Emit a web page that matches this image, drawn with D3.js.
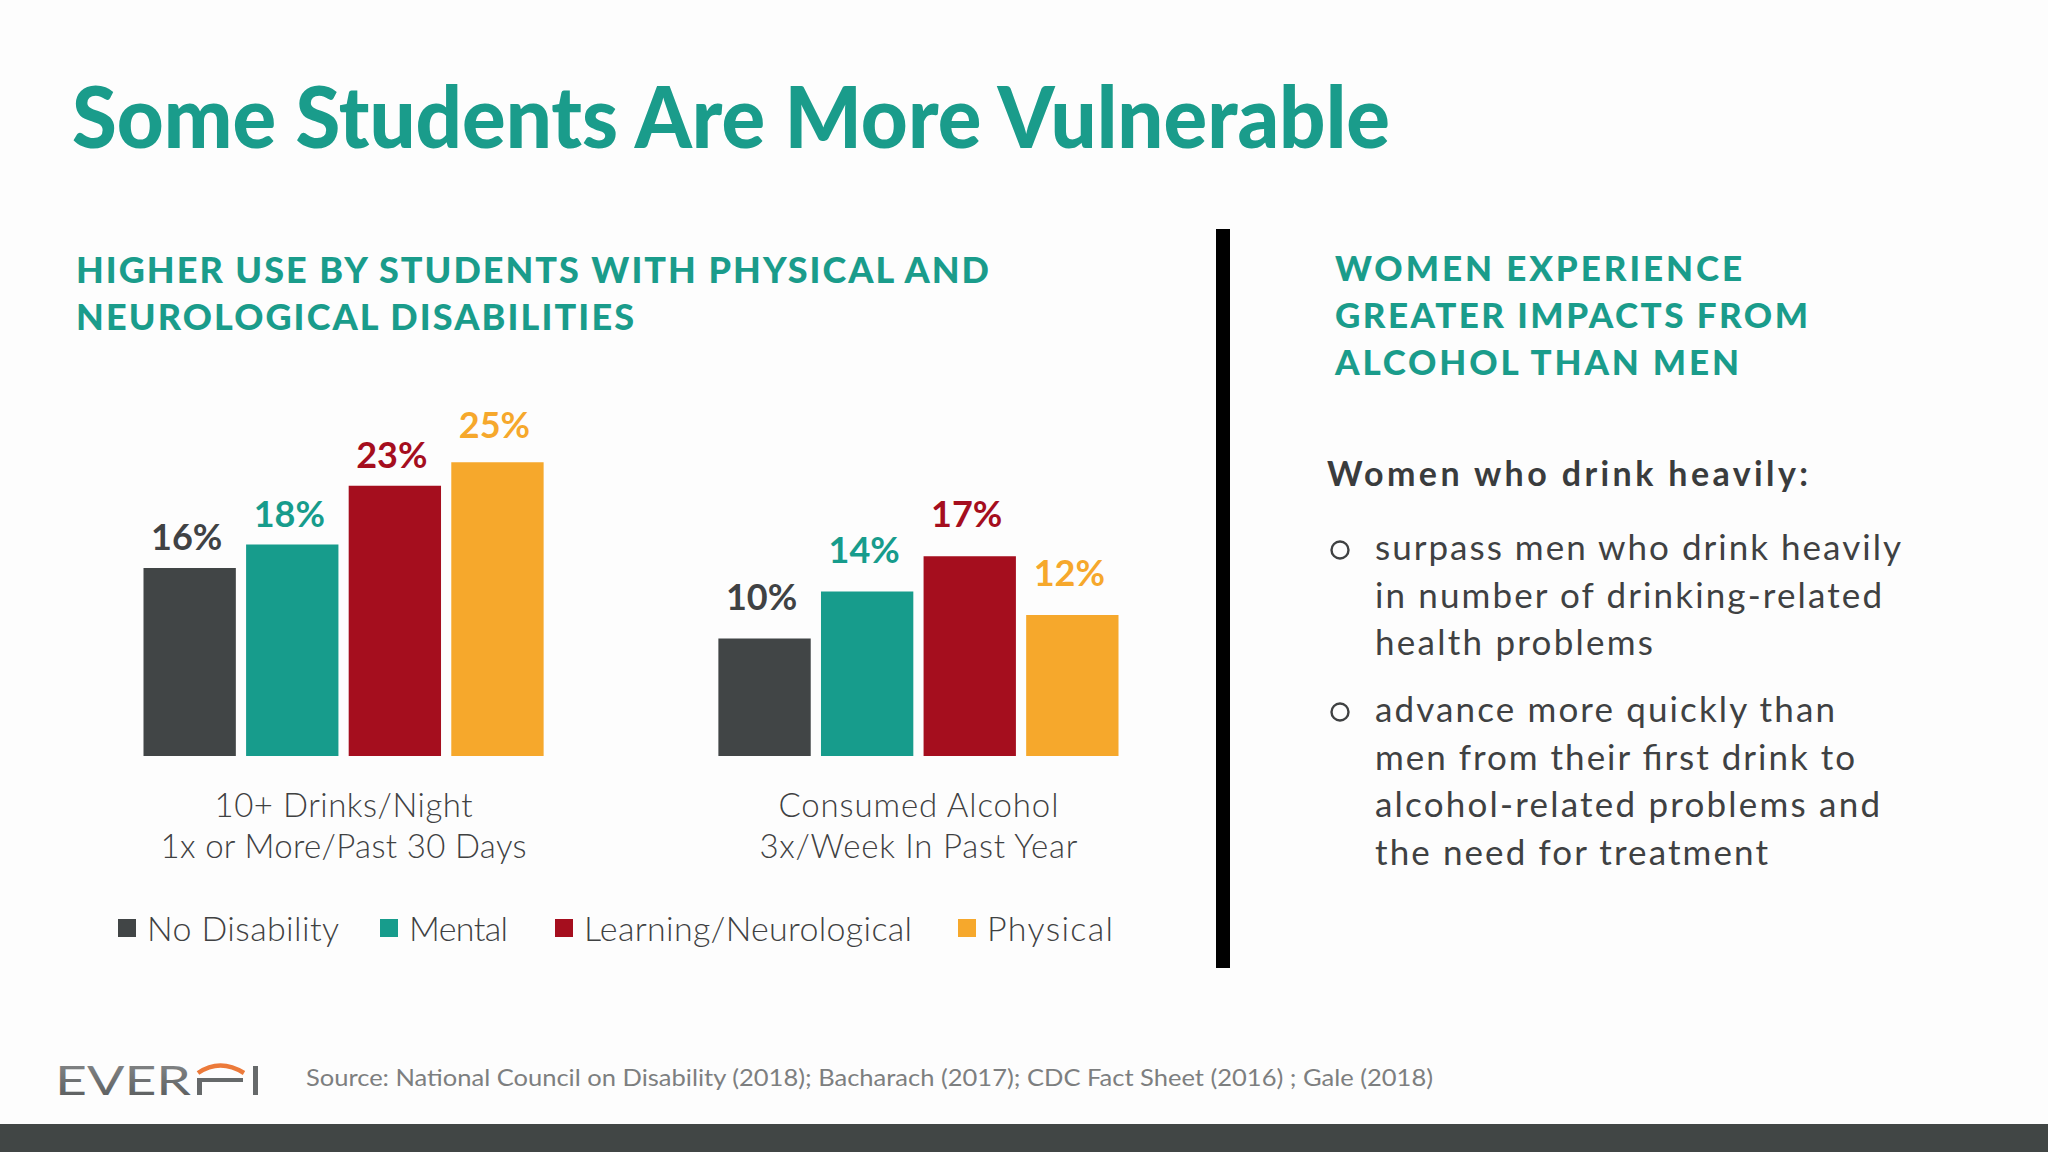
<!DOCTYPE html>
<html>
<head>
<meta charset="utf-8">
<script src="https://cdn.jsdelivr.net/npm/d3@7"></script>
<style>
  html, body { margin: 0; padding: 0; background: #fdfdfd; }
  svg { display: block; }
  text { font-family: Lato, "Open Sans", sans-serif; }
</style>
</head>
<body>
<svg id="chart" width="2048" height="1152"></svg>
<script>
// ---------- data ----------
const categories = ["10+ Drinks/Night|1x or More/Past 30 Days", "Consumed Alcohol|3x/Week In Past Year"];
const seriesNames = ["No Disability", "Mental", "Learning/Neurological", "Physical"];
const noDisability = [16, 10];
const mental = [18, 14];
const learningNeuro = [23, 17];
const physical = [25, 12];
const seriesValues = [noDisability, mental, learningNeuro, physical];
const seriesColors = ["#414546", "#179c8c", "#a50e1e", "#f6a82c"];
const labelColors = ["#404244", "#179c8c", "#a50e1e", "#f6a82c"];

const titleText = "Some Students Are More Vulnerable";
const leftHeading = ["HIGHER USE BY STUDENTS WITH PHYSICAL AND", "NEUROLOGICAL DISABILITIES"];
const rightHeading = ["WOMEN EXPERIENCE", "GREATER IMPACTS FROM", "ALCOHOL THAN MEN"];
const rightLead = "Women who drink heavily:";
const bullets = [
  ["surpass men who drink heavily", "in number of drinking-related", "health problems"],
  ["advance more quickly than", "men from their first drink to", "alcohol-related problems and", "the need for treatment"]
];
const sourceText = "Source: National Council on Disability (2018); Bacharach (2017); CDC Fact Sheet (2016) ; Gale (2018)";

// ---------- drawing ----------
const svg = d3.select("#chart");
const teal = "#1a9c8b";
const textGray = "#3f4142";

svg.append("rect").attr("width", 2048).attr("height", 1152).attr("fill", "#fdfdfd");

// Title
svg.append("text").attr("x", 72).attr("y", 148)
  .attr("font-size", 85).attr("font-weight", 900).attr("fill", teal)
  .attr("textLength", 1318).attr("lengthAdjust", "spacingAndGlyphs")
  .text(titleText);

// Left heading
const lhWidths = [913, 558];
leftHeading.forEach((t, i) => {
  svg.append("text").attr("x", 76).attr("y", 283 + i * 47)
    .attr("font-size", 36).attr("font-weight", 900).attr("fill", teal)
    .attr("textLength", lhWidths[i]).attr("lengthAdjust", "spacing")
    .text(t);
});

// Scales
const x0 = d3.scaleBand().domain(categories).range([143.5, 1118.5]).paddingInner(0.304).paddingOuter(0);
const x1 = d3.scaleBand().domain(seriesNames).range([0, x0.bandwidth()]).paddingInner(0.1);
const y = d3.scaleLinear().domain([0, 25]).range([756, 756 - 25 * 11.75]);
const labelGap = [18, 29];

const catWidths = [[258, 366], [280, 318]];

const groups = svg.append("g").selectAll("g").data(categories).join("g")
  .attr("transform", d => `translate(${x0(d)},0)`);

groups.each(function (cat, ci) {
  const g = d3.select(this);
  seriesNames.forEach((s, si) => {
    const v = seriesValues[si][ci];
    g.append("rect")
      .attr("x", x1(s)).attr("y", y(v))
      .attr("width", x1.bandwidth()).attr("height", y(0) - y(v))
      .attr("fill", seriesColors[si]);
    g.append("text")
      .attr("x", x1(s) + x1.bandwidth() / 2 - 3).attr("y", y(v) - labelGap[ci] - (v === 25 ? 6 : 0))
      .attr("text-anchor", "middle").attr("font-size", 36).attr("font-weight", 700)
      .attr("fill", labelColors[si])
      .text(v + "%");
  });
  const lines = cat.split("|");
  lines.forEach((l, li) => {
    g.append("text")
      .attr("x", x0.bandwidth() / 2).attr("y", 817 + li * 41)
      .attr("text-anchor", "middle").attr("font-size", 33).attr("font-weight", 300)
      .attr("fill", textGray)
      .attr("textLength", catWidths[ci][li]).attr("lengthAdjust", "spacing")
      .text(l);
  });
});

// Legend
const legendX = [118, 380, 555, 958];
const legendW = [192, 99, 328, 126];
const legend = svg.append("g");
seriesNames.forEach((s, i) => {
  legend.append("rect").attr("x", legendX[i]).attr("y", 919).attr("width", 18).attr("height", 18)
    .attr("fill", seriesColors[i]);
  legend.append("text").attr("x", legendX[i] + 29).attr("y", 941)
    .attr("font-size", 34).attr("font-weight", 300).attr("fill", textGray)
    .attr("textLength", legendW[i]).attr("lengthAdjust", "spacing")
    .text(s);
});

// Divider
svg.append("rect").attr("x", 1216).attr("y", 229).attr("width", 14).attr("height", 739).attr("fill", "#000");

// Right heading
const rhWidths = [407, 473, 404];
rightHeading.forEach((t, i) => {
  svg.append("text").attr("x", 1335).attr("y", 281 + i * 47)
    .attr("font-size", 35).attr("font-weight", 900).attr("fill", teal)
    .attr("textLength", rhWidths[i]).attr("lengthAdjust", "spacing")
    .text(t);
});

svg.append("text").attr("x", 1327).attr("y", 486)
  .attr("font-size", 34).attr("font-weight", 700).attr("fill", "#3a3c3d")
  .attr("textLength", 481).attr("lengthAdjust", "spacing")
  .text(rightLead);

const bulletStarts = [560, 722];
const bulletW = [[526, 507, 278], [460, 480, 505, 393]];
bullets.forEach((lines, bi) => {
  svg.append("circle").attr("cx", 1340).attr("cy", bulletStarts[bi] - 10).attr("r", 8.5)
    .attr("fill", "none").attr("stroke", textGray).attr("stroke-width", 2.4);
  lines.forEach((l, li) => {
    svg.append("text").attr("x", 1375).attr("y", bulletStarts[bi] + li * 47.5)
      .attr("font-size", 35).attr("font-weight", 400).attr("fill", textGray)
      .attr("textLength", bulletW[bi][li]).attr("lengthAdjust", "spacing")
      .text(l);
  });
});

// Footer logo
const logo = svg.append("g");
const logoGrad = svg.append("defs").append("linearGradient").attr("id", "lg").attr("x1", 0).attr("y1", 0).attr("x2", 0).attr("y2", 1);
logoGrad.append("stop").attr("offset", "0%").attr("stop-color", "#8a8c8d");
logoGrad.append("stop").attr("offset", "100%").attr("stop-color", "#555859");
logo.append("text").attr("x", 55).attr("y", 1095)
  .attr("font-size", 40).attr("font-weight", 400).attr("fill", "url(#lg)")
  .attr("textLength", 136).attr("lengthAdjust", "spacingAndGlyphs")
  .text("EVER");
logo.append("rect").attr("x", 197).attr("y", 1078).attr("width", 5).attr("height", 17).attr("fill", "#66696a");
logo.append("rect").attr("x", 197).attr("y", 1078).attr("width", 46).attr("height", 4).attr("fill", "#66696a");
logo.append("path").attr("d", "M198,1073 Q220,1058 244,1073").attr("fill", "none")
  .attr("stroke", "#ec7a3a").attr("stroke-width", 4.5);
logo.append("rect").attr("x", 253).attr("y", 1066).attr("width", 5).attr("height", 29).attr("fill", "#66696a");

svg.append("text").attr("x", 306).attr("y", 1086)
  .attr("font-size", 23).attr("fill", "#7d7f80")
  .attr("textLength", 1127).attr("lengthAdjust", "spacingAndGlyphs")
  .text(sourceText);

// Bottom bar
svg.append("rect").attr("x", 0).attr("y", 1124).attr("width", 2048).attr("height", 28).attr("fill", "#414645");
</script>
</body>
</html>
